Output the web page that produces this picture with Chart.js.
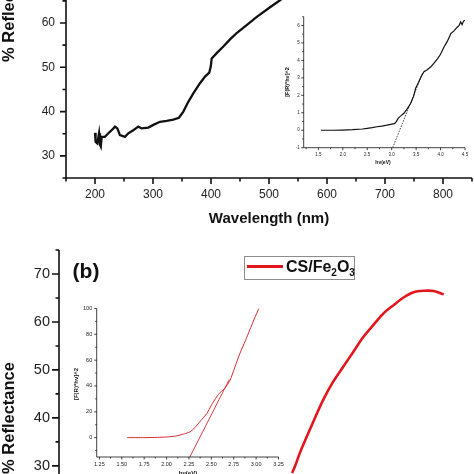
<!DOCTYPE html>
<html><head><meta charset="utf-8">
<script src="https://cdn.jsdelivr.net/npm/chart.js@4.4.1/dist/chart.umd.min.js"></script>
<style>
html,body{margin:0;padding:0;background:#fff;overflow:hidden;}
#wrap{position:relative;width:474px;height:474px;overflow:hidden;background:#fff;}
canvas{position:absolute;left:0;top:0;}
#legend{position:absolute;left:244px;top:256px;width:111px;height:24px;border:1px solid #8c8c8c;box-sizing:border-box;font:bold 16px "Liberation Sans",Arial,sans-serif;color:#111;}
#legend .ln{position:absolute;left:2px;top:8px;width:36px;height:3px;background:#e3161e;}
#legend .tx{position:absolute;left:41px;top:1px;line-height:18px;white-space:nowrap;}
#legend sub{font-size:10px;vertical-align:-4px;line-height:0;}
</style></head>
<body><div id="wrap">
<canvas id="cA" width="474" height="474"></canvas>
<canvas id="cAin" width="474" height="474"></canvas>
<canvas id="cB" width="474" height="474"></canvas>
<canvas id="cBin" width="474" height="474"></canvas>
<div id="legend"><span class="ln"></span><span class="tx">CS/Fe<sub>2</sub>O<sub>3</sub></span></div>
</div>
<script>
// ---------- data ----------
const wavelengthA = [200,201,204,207,208.6,210,211.5,217,223,228.7,234.5,238.5,243,251.7,257.4,266,274.7,280.5,292,300.6,312,323.6,335,344.8,352.3,360.9,369.5,381,389.7,397,399.5,401.2,409.8,421.3,432.8,444.8,462,479,500,519.5,525];
const reflectanceA = [35.2,33.2,32.8,35.1,32.5,32.1,34.3,34.3,35.1,35.8,36.6,36.2,34.7,34.3,35.1,35.8,36.6,36.2,36.4,37.0,37.7,37.9,38.2,38.6,40.0,42.2,44.1,46.4,47.9,48.8,50.1,52.0,53.2,54.7,56.3,57.8,59.6,61.4,63.4,65.2,65.8];

const wavelengthB = [545,550,558,570,581,598,615,632,649,666,683,700,717,734,751,768,785,802];
const reflectanceB = [28.5,29.9,32.6,36.1,39.2,43.8,47.6,50.7,53.8,56.9,59.4,61.8,63.5,65.1,66.2,66.5,66.45,65.75];

const energyA = [1.55,1.8,2.0,2.2,2.4,2.5,2.6,2.7,2.8,2.9,2.98,3.05,3.08,3.12,3.15,3.2,3.25,3.3,3.39,3.45,3.49,3.55,3.6,3.66,3.72,3.8,3.87,3.94,4.0,4.07,4.14,4.21,4.28,4.34,4.38,4.41,4.44,4.47,4.5];
const fhvA = [0,0,0.01,0.03,0.07,0.11,0.15,0.2,0.24,0.29,0.34,0.38,0.42,0.62,0.74,0.85,0.97,1.15,1.54,1.95,2.4,2.75,3.06,3.35,3.45,3.63,3.85,4.1,4.35,4.77,5.1,5.53,5.7,5.9,6.0,6.2,6.05,6.25,6.3];
const tangentAx = [3.02,3.63];
const tangentAy = [-1,3.25];

const energyB = [1.56,1.75,1.9,2.0,2.1,2.15,2.2,2.26,2.32,2.38,2.45,2.5,2.56,2.6,2.65,2.71,2.76,2.82,2.88,2.93,2.98,3.03];
const fhvB = [0,0,0.2,0.5,1.2,2,3,4.4,8,13,18.7,25,31.6,35,38.1,44.6,54,65.4,75,83.5,92,100];
const tangentBx = [2.26,2.7];
const tangentBy = [-15,45];

const xTicksMain = [200,300,400,500,600,700,800];
const xMinorMain = [150,250,350,450,550,650,750,850];
const yTicksA = [30,40,50,60];
const yMinorA = [25,35,45,55,65];
const yTicksB = [30,40,50,60,70];
const yMinorB = [35,45,55,65,75];
const xTicksInA = [1.5,2.0,2.5,3.0,3.5,4.0,4.5];
const xMinorInA = [1.25,1.75,2.25,2.75,3.25,3.75,4.25];
const yTicksInA = [-1,0,1,2,3,4,5,6];
const yMinorInA = [-0.5,0.5,1.5,2.5,3.5,4.5,5.5,6.5];
const xTicksInB = [1.25,1.5,1.75,2.0,2.25,2.5,2.75,3.0,3.25];
const xMinorInB = [1.375,1.625,1.875,2.125,2.375,2.625,2.875,3.125];
const yTicksInB = [0,20,40,60,80,100];
const yMinorInB = [-10,10,30,50,70,90];

const FAM = '"Liberation Sans", Arial, sans-serif';
const pts = (xs, ys) => xs.map((x, i) => ({x, y: ys[i]}));

// ---------- axis / text plugin ----------
const axisPlugin = {
  id: 'axisDraw',
  afterDraw(chart, args, o) {
    const ctx = chart.ctx, a = chart.chartArea, xs = chart.scales.x, ys = chart.scales.y;
    ctx.save();
    ctx.strokeStyle = '#111';
    ctx.lineWidth = o.width;
    ctx.beginPath();
    ctx.moveTo(a.left, a.top); ctx.lineTo(a.left, a.bottom);
    if (o.drawX) {
      ctx.moveTo(a.left, a.bottom); ctx.lineTo(a.right, a.bottom);
      o.xMajor.forEach(v => { const p = xs.getPixelForValue(v); ctx.moveTo(p, a.bottom); ctx.lineTo(p, a.bottom + o.major); });
      o.xMinor.forEach(v => { const p = xs.getPixelForValue(v); ctx.moveTo(p, a.bottom); ctx.lineTo(p, a.bottom + o.minor); });
    }
    o.yMajor.forEach(v => { const p = ys.getPixelForValue(v); ctx.moveTo(a.left, p); ctx.lineTo(a.left - o.major, p); });
    o.yMinor.forEach(v => { const p = ys.getPixelForValue(v); ctx.moveTo(a.left, p); ctx.lineTo(a.left - o.minor, p); });
    ctx.stroke();
    (o.texts || []).forEach(t => {
      ctx.save();
      ctx.font = t.font; ctx.fillStyle = '#111';
      ctx.textAlign = 'center'; ctx.textBaseline = 'middle';
      ctx.translate(t.x, t.y);
      if (t.rot) ctx.rotate(t.rot);
      ctx.fillText(t.text, 0, 0);
      ctx.restore();
    });
    ctx.restore();
  }
};

function makeChart(id, c) {
  const zeroPad = s => { s.paddingTop = 0; s.paddingBottom = 0; s.paddingLeft = 0; s.paddingRight = 0; };
  return new Chart(document.getElementById(id), {
    type: 'line',
    data: { datasets: c.datasets },
    options: {
      responsive: false, animation: false, devicePixelRatio: 1,
      layout: { padding: { left: 0, right: 474 - c.R, top: c.T, bottom: c.showX ? 0 : 474 - c.B } },
      plugins: { legend: { display: false }, tooltip: { enabled: false }, axisDraw: c.axis },
      elements: { point: { radius: 0 } },
      scales: {
        x: {
          type: 'linear', min: c.xMin, max: c.xMax, display: c.showX,
          grid: { display: false, drawTicks: false }, border: { display: false },
          afterBuildTicks(s) { s.ticks = c.xTicks.map(v => ({ value: v })); },
          afterFit(s) { s.height = 474 - c.B; zeroPad(s); },
          ticks: { padding: c.xPad, font: { family: FAM, size: c.fs }, color: '#222', maxRotation: 0, minRotation: 0, autoSkip: false, callback: c.xFmt }
        },
        y: {
          type: 'linear', min: c.yMin, max: c.yMax,
          grid: { display: false, drawTicks: false }, border: { display: false },
          afterBuildTicks(s) { s.ticks = c.yTicks.map(v => ({ value: v })); },
          afterFit(s) { s.width = c.L; zeroPad(s); },
          ticks: { padding: c.yPad, font: { family: FAM, size: c.fs }, color: '#222', autoSkip: false, callback: c.yFmt }
        }
      }
    },
    plugins: [axisPlugin]
  });
}

// ---------- panel (a) main ----------
makeChart('cA', {
  L: 66, R: 472, T: 0, B: 178, xMin: 150, xMax: 850, yMin: 25, yMax: 65.2,
  showX: true, xTicks: xTicksMain, yTicks: yTicksA, fs: 12, xPad: 9, yPad: 11,
  xFmt: v => String(v), yFmt: v => String(v),
  datasets: [{ data: pts(wavelengthA, reflectanceA), borderColor: '#111', borderWidth: 2.3, tension: 0 }],
  axis: { width: 1.6, drawX: true, major: 6, minor: 3.5, xMajor: xTicksMain, xMinor: xMinorMain, yMajor: yTicksA, yMinor: yMinorA,
    texts: [
      { text: 'Wavelength (nm)', x: 269, y: 219, font: 'bold 15px ' + FAM },
      { text: '% Reflectance', x: 9, y: 6, rot: -Math.PI / 2, font: 'bold 16.5px ' + FAM }
    ] }
});

// ---------- panel (a) inset ----------
makeChart('cAin', {
  L: 303.7, R: 465, T: 16.7, B: 147.7, xMin: 1.2, xMax: 4.5, yMin: -1, yMax: 6.5,
  showX: true, xTicks: xTicksInA, yTicks: yTicksInA, fs: 4.5, xPad: 4.3, yPad: 4,
  xFmt: v => v.toFixed(1), yFmt: v => String(v),
  datasets: [
    { data: pts(energyA, fhvA), borderColor: '#111', borderWidth: 1.2, tension: 0 },
    { data: pts(tangentAx, tangentAy), borderColor: '#222', borderWidth: 0.8, borderDash: [1.6, 1.2], tension: 0 }
  ],
  axis: { width: 0.8, drawX: true, major: 2.5, minor: 1.5, xMajor: xTicksInA, xMinor: xMinorInA, yMajor: yTicksInA, yMinor: yMinorInA,
    texts: [
      { text: 'hν(eV)', x: 383, y: 163, font: 'bold 5px ' + FAM },
      { text: '[F(R)*hν]^2', x: 287, y: 82, rot: -Math.PI / 2, font: 'bold 5.5px ' + FAM }
    ] }
});

// ---------- panel (b) main ----------
makeChart('cB', {
  L: 59, R: 472, T: 250, B: 474, xMin: 150, xMax: 850, yMin: 28.3, yMax: 75,
  showX: false, xTicks: xTicksMain, yTicks: yTicksB, fs: 14.5, xPad: 9, yPad: 9,
  xFmt: v => String(v), yFmt: v => String(v),
  datasets: [{ data: pts(wavelengthB, reflectanceB), borderColor: '#e3161e', borderWidth: 2.6, tension: 0.3 }],
  axis: { width: 1.6, drawX: false, major: 7, minor: 3.5, xMajor: [], xMinor: [], yMajor: yTicksB, yMinor: yMinorB,
    texts: [
      { text: '% Reflectance', x: 9, y: 418, rot: -Math.PI / 2, font: 'bold 16.5px ' + FAM },
      { text: '(b)', x: 86, y: 272, font: 'bold 21px ' + FAM }
    ] }
});

// ---------- panel (b) inset ----------
makeChart('cBin', {
  L: 96.7, R: 278.5, T: 308.5, B: 457, xMin: 1.22, xMax: 3.25, yMin: -15, yMax: 100,
  showX: true, xTicks: xTicksInB, yTicks: yTicksInB, fs: 5.5, xPad: 4.3, yPad: 4.5,
  xFmt: v => v.toFixed(2), yFmt: v => String(v),
  datasets: [
    { data: pts(energyB, fhvB), borderColor: '#d42a2f', borderWidth: 1, tension: 0.2 },
    { data: pts(tangentBx, tangentBy), borderColor: '#d42a2f', borderWidth: 0.9, tension: 0 }
  ],
  axis: { width: 0.8, drawX: true, major: 2.5, minor: 1.5, xMajor: xTicksInB, xMinor: xMinorInB, yMajor: yTicksInB, yMinor: yMinorInB,
    texts: [
      { text: 'hν(eV)', x: 188, y: 473, font: 'bold 6px ' + FAM },
      { text: '[F(R)*hν]^2', x: 76, y: 384, rot: -Math.PI / 2, font: 'bold 6px ' + FAM }
    ] }
});
</script>
</body></html>
